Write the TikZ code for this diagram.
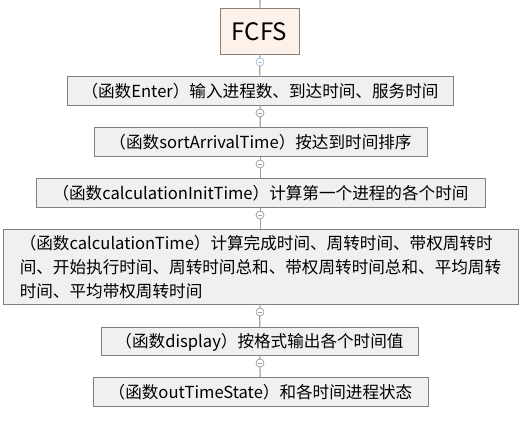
\documentclass[tikz,border=0pt]{standalone}
\usepackage{fontspec}
\setmainfont{Noto Sans CJK SC}
\definecolor{boxfill}{HTML}{F0F0F0}
\definecolor{boxline}{HTML}{808080}
\definecolor{rootfill}{HTML}{FDF2E9}
\definecolor{rootline}{HTML}{8B7D73}
\definecolor{linkgray}{HTML}{A0A0A0}
\definecolor{knobblue}{HTML}{A7BFDF}
\begin{document}
\begin{tikzpicture}[
  x=1pt, y=-1pt,
  box/.style={rectangle, draw=boxline, fill=boxfill, line width=1pt, inner sep=0pt,
    minimum height=29pt, font=\fontsize{16.6}{24}\selectfont},
  root/.style={rectangle, draw=rootline, fill=rootfill, line width=1pt, inner sep=0pt,
    minimum width=79pt, minimum height=46pt, font=\fontsize{24}{28}\selectfont},
  link/.style={draw=linkgray, line width=1.2pt},
  knob/.style={circle, draw=linkgray, fill=white, line width=0.8pt, inner sep=0pt, minimum size=8pt,
    path picture={\draw[linkgray, line width=0.8pt]
      ([xshift=-2.2pt]path picture bounding box.center) -- ([xshift=2.2pt]path picture bounding box.center);}}
]
\useasboundingbox (0,0) rectangle (523,427);

% --- nodes ---
\coordinate (top) at (260,0);
\node[root] (fcfs) at (259.5,32) {FCFS};
\node[box, minimum width=386pt] (enter) at (260,91.5) {（函数Enter）输入进程数、到达时间、服务时间};
\node[box, minimum width=333pt] (sort) at (260.5,142.5) {（函数sortArrivalTime）按达到时间排序};
\node[box, minimum width=449pt] (init) at (260.5,193.5) {（函数calculationInitTime）计算第一个进程的各个时间};
\node[box, minimum width=515pt, minimum height=75pt, align=left, inner xsep=8pt] (calc) at (260.5,267.5)
  {（函数calculationTime）计算完成时间、周转时间、带权周转时\\
   间、开始执行时间、周转时间总和、带权周转时间总和、平均周转\\
   时间、平均带权周转时间};
\node[box, minimum width=317pt, minimum height=28pt] (disp) at (259.5,342) {（函数display）按格式输出各个时间值};
\node[box, minimum width=335pt] (state) at (260.5,392.5) {（函数outTimeState）和各时间进程状态};

% --- links ---
\draw[link] (top) -- (fcfs);
\draw[link] (fcfs) -- (enter);
\draw[link] (enter) -- (sort);
\draw[link] (sort) -- (init);
\draw[link] (init) -- (calc);
\draw[link] (calc) -- (disp);
\draw[link] (disp) -- (state);

% --- collapse knobs ---
\node[knob, draw=knobblue, path picture={\draw[knobblue, line width=0.8pt]
  ([xshift=-2.2pt]path picture bounding box.center) -- ([xshift=2.2pt]path picture bounding box.center);}]
  (k1) at (260,62) {};
\node[knob] (k2) at (260,113) {};
\node[knob] (k3) at (260,164) {};
\node[knob] (k4) at (260,215) {};
\node[knob] (k5) at (260,312) {};
\node[knob] (k6) at (260,363) {};

\end{tikzpicture}
\end{document}
